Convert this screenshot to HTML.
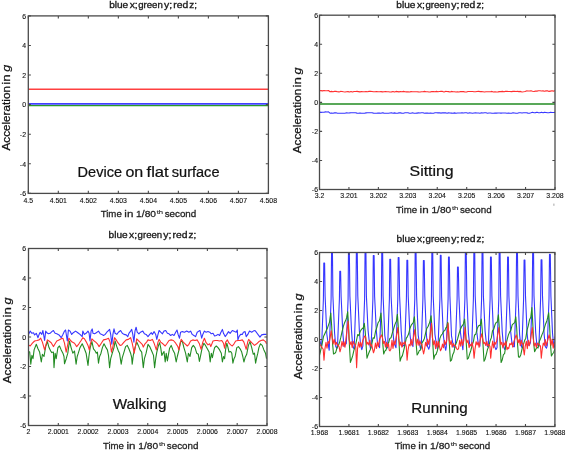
<!DOCTYPE html><html><head><meta charset="utf-8"><style>html,body{margin:0;padding:0;background:#fff;overflow:hidden}svg{display:block;filter:blur(0.3px)}text{font-family:"Liberation Sans",sans-serif}</style></head><body><svg width="567" height="452" viewBox="0 0 567 452">
<rect width="567" height="452" fill="#fff"/>
<clipPath id="cTL"><rect x="28.3" y="15.9" width="240.09999999999997" height="177.5"/></clipPath>
<g clip-path="url(#cTL)" fill="none" stroke-linejoin="round">
<line x1="28.3" y1="89.2" x2="268.4" y2="89.2" stroke="#ff4040" stroke-width="1.4"/>
<line x1="28.3" y1="105.6" x2="268.4" y2="105.6" stroke="#2a9a2a" stroke-width="1.3"/>
<line x1="28.3" y1="103.9" x2="268.4" y2="103.9" stroke="#4040ff" stroke-width="1.9"/>
</g>
<rect x="28.3" y="15.9" width="240.10" height="177.50" fill="none" stroke="#4a4a4a" stroke-width="1.3"/>
<path d="M28.3,15.90h2.6M268.4,15.90h-2.6M28.3,45.48h2.6M268.4,45.48h-2.6M28.3,75.07h2.6M268.4,75.07h-2.6M28.3,104.65h2.6M268.4,104.65h-2.6M28.3,134.23h2.6M268.4,134.23h-2.6M28.3,163.82h2.6M268.4,163.82h-2.6M28.3,193.40h2.6M268.4,193.40h-2.6M28.30,193.4v-2.6M28.30,15.9v2.6M58.31,193.4v-2.6M58.31,15.9v2.6M88.32,193.4v-2.6M88.32,15.9v2.6M118.34,193.4v-2.6M118.34,15.9v2.6M148.35,193.4v-2.6M148.35,15.9v2.6M178.36,193.4v-2.6M178.36,15.9v2.6M208.38,193.4v-2.6M208.38,15.9v2.6M238.39,193.4v-2.6M238.39,15.9v2.6M268.40,193.4v-2.6M268.40,15.9v2.6" stroke="#4a4a4a" stroke-width="1.1" fill="none"/>
<text x="26.0" y="18.60" font-size="7.5" text-anchor="end" fill="#111" stroke="#111" stroke-width="0.12" textLength="3.84" lengthAdjust="spacingAndGlyphs">6</text>
<text x="26.0" y="48.18" font-size="7.5" text-anchor="end" fill="#111" stroke="#111" stroke-width="0.12" textLength="3.84" lengthAdjust="spacingAndGlyphs">4</text>
<text x="26.0" y="77.77" font-size="7.5" text-anchor="end" fill="#111" stroke="#111" stroke-width="0.12" textLength="3.84" lengthAdjust="spacingAndGlyphs">2</text>
<text x="26.0" y="107.35" font-size="7.5" text-anchor="end" fill="#111" stroke="#111" stroke-width="0.12" textLength="3.84" lengthAdjust="spacingAndGlyphs">0</text>
<text x="26.0" y="136.93" font-size="7.5" text-anchor="end" fill="#111" stroke="#111" stroke-width="0.12" textLength="6.13" lengthAdjust="spacingAndGlyphs">-2</text>
<text x="26.0" y="166.52" font-size="7.5" text-anchor="end" fill="#111" stroke="#111" stroke-width="0.12" textLength="6.13" lengthAdjust="spacingAndGlyphs">-4</text>
<text x="26.0" y="196.10" font-size="7.5" text-anchor="end" fill="#111" stroke="#111" stroke-width="0.12" textLength="6.13" lengthAdjust="spacingAndGlyphs">-6</text>
<text x="28.30" y="202.50" font-size="7.5" text-anchor="middle" fill="#111" stroke="#111" stroke-width="0.12" textLength="9.59" lengthAdjust="spacingAndGlyphs">4.5</text>
<text x="58.31" y="202.50" font-size="7.5" text-anchor="middle" fill="#111" stroke="#111" stroke-width="0.12" textLength="17.26" lengthAdjust="spacingAndGlyphs">4.501</text>
<text x="88.32" y="202.50" font-size="7.5" text-anchor="middle" fill="#111" stroke="#111" stroke-width="0.12" textLength="17.26" lengthAdjust="spacingAndGlyphs">4.502</text>
<text x="118.34" y="202.50" font-size="7.5" text-anchor="middle" fill="#111" stroke="#111" stroke-width="0.12" textLength="17.26" lengthAdjust="spacingAndGlyphs">4.503</text>
<text x="148.35" y="202.50" font-size="7.5" text-anchor="middle" fill="#111" stroke="#111" stroke-width="0.12" textLength="17.26" lengthAdjust="spacingAndGlyphs">4.504</text>
<text x="178.36" y="202.50" font-size="7.5" text-anchor="middle" fill="#111" stroke="#111" stroke-width="0.12" textLength="17.26" lengthAdjust="spacingAndGlyphs">4.505</text>
<text x="208.38" y="202.50" font-size="7.5" text-anchor="middle" fill="#111" stroke="#111" stroke-width="0.12" textLength="17.26" lengthAdjust="spacingAndGlyphs">4.506</text>
<text x="238.39" y="202.50" font-size="7.5" text-anchor="middle" fill="#111" stroke="#111" stroke-width="0.12" textLength="17.26" lengthAdjust="spacingAndGlyphs">4.507</text>
<text x="268.40" y="202.50" font-size="7.5" text-anchor="middle" fill="#111" stroke="#111" stroke-width="0.12" textLength="17.26" lengthAdjust="spacingAndGlyphs">4.508</text>
<text transform="translate(109.15,7.80) scale(1.1351,1)" font-size="8.9" fill="#1a1a1a" stroke="#1a1a1a" stroke-width="0.3">blue</text>
<text transform="translate(129.68,7.80) scale(1.1622,1)" font-size="8.9" fill="#1a1a1a" stroke="#1a1a1a" stroke-width="0.3">x;</text>
<text transform="translate(138.20,7.80) scale(1.0820,1)" font-size="8.9" fill="#1a1a1a" stroke="#1a1a1a" stroke-width="0.3">green</text>
<text transform="translate(163.97,7.80) scale(1.1801,1)" font-size="8.9" fill="#1a1a1a" stroke="#1a1a1a" stroke-width="0.3">y;</text>
<text transform="translate(173.21,7.80) scale(1.1625,1)" font-size="8.9" fill="#1a1a1a" stroke="#1a1a1a" stroke-width="0.3">red</text>
<text transform="translate(189.20,7.80) scale(1.1106,1)" font-size="8.9" fill="#1a1a1a" stroke="#1a1a1a" stroke-width="0.3">z;</text>
<text transform="translate(100.68,216.60) scale(1.0159,1)" font-size="9.5" fill="#222" stroke="#222" stroke-width="0.26">Time</text>
<text transform="translate(124.32,216.60) scale(1.2212,1)" font-size="9.5" fill="#222" stroke="#222" stroke-width="0.26">in</text>
<text transform="translate(136.12,216.60) scale(1.0750,1)" font-size="9.5" fill="#222" stroke="#222" stroke-width="0.26">1/80</text>
<text transform="translate(156.68,213.60) scale(1.2822,1)" font-size="6.0" fill="#222" stroke="#222" stroke-width="0.1">th</text>
<text transform="translate(164.63,216.60) scale(1.0350,1)" font-size="9.5" fill="#222" stroke="#222" stroke-width="0.26">second</text>
<g transform="translate(10.3,150.5) rotate(-90)">
<text transform="translate(-0.02,0.00) scale(0.9931,1)" font-size="11.8" fill="#111" stroke="#111" stroke-width="0.26">Acceleration</text>
<text transform="translate(65.81,0.00) scale(1.1273,1)" font-size="11.8" fill="#111" stroke="#111" stroke-width="0.26">in</text>
<text transform="translate(78.68,0.00) scale(1.0566,1)" font-size="11.8" fill="#111" stroke="#111" stroke-width="0.26" font-style="italic">g</text>
</g>
<text transform="translate(77.61,176.60) scale(1.0385,1)" font-size="14.0" fill="#111" stroke="#111" stroke-width="0.22">Device</text>
<text transform="translate(125.43,176.60) scale(1.1439,1)" font-size="14.0" fill="#111" stroke="#111" stroke-width="0.22">on</text>
<text transform="translate(146.56,176.60) scale(1.1864,1)" font-size="14.0" fill="#111" stroke="#111" stroke-width="0.22">flat</text>
<text transform="translate(171.79,176.60) scale(1.0401,1)" font-size="14.0" fill="#111" stroke="#111" stroke-width="0.22">surface</text>
<clipPath id="cTR"><rect x="319.5" y="15.2" width="235.5" height="174.3"/></clipPath>
<g clip-path="url(#cTR)" fill="none" stroke-linejoin="round">
<polyline points="319.5,112.1 321.0,112.4 322.5,112.3 324.0,112.2 325.5,111.9 327.0,112.0 328.5,111.9 330.0,113.2 331.5,113.0 333.0,113.2 334.5,112.9 336.0,112.8 337.5,113.2 339.0,113.3 340.5,113.2 342.0,113.2 343.5,113.2 345.0,113.2 346.5,112.8 348.0,113.0 349.5,112.9 351.0,112.7 352.5,112.7 354.0,112.8 355.5,112.8 357.0,113.1 358.5,113.3 360.0,113.0 361.5,113.3 363.0,113.3 364.5,113.3 366.0,112.9 367.5,112.8 369.0,112.8 370.5,112.8 372.0,112.8 373.5,113.1 375.0,113.3 376.5,113.2 378.0,113.0 379.5,113.1 381.0,113.2 382.5,112.7 384.0,113.1 385.5,113.3 387.0,113.2 388.5,113.2 390.0,113.0 391.5,112.8 393.0,113.2 394.5,112.9 396.0,113.2 397.5,113.3 399.0,112.9 400.5,112.9 402.0,113.3 403.5,113.2 405.0,112.8 406.5,112.7 408.0,112.8 409.5,113.3 411.0,113.2 412.5,112.8 414.0,113.2 415.5,113.3 417.0,113.1 418.5,112.9 420.0,113.0 421.5,112.7 423.0,112.7 424.5,113.3 426.0,113.1 427.5,113.0 429.0,113.3 430.5,113.0 432.0,113.3 433.5,113.2 435.0,112.8 436.5,112.8 438.0,112.9 439.5,112.8 441.0,113.1 442.5,112.8 444.0,112.9 445.5,112.7 447.0,113.3 448.5,112.9 450.0,113.0 451.5,113.1 453.0,113.3 454.5,112.9 456.0,113.3 457.5,113.0 459.0,113.0 460.5,113.0 462.0,112.7 463.5,113.0 465.0,112.8 466.5,112.7 468.0,113.2 469.5,112.8 471.0,113.0 472.5,113.2 474.0,113.0 475.5,112.9 477.0,113.0 478.5,113.0 480.0,113.2 481.5,112.7 483.0,113.0 484.5,112.8 486.0,112.8 487.5,113.2 489.0,113.0 490.5,113.0 492.0,113.2 493.5,113.3 495.0,113.0 496.5,113.1 498.0,113.0 499.5,113.0 501.0,113.1 502.5,113.0 504.0,113.0 505.5,113.0 507.0,113.3 508.5,113.1 510.0,113.3 511.5,113.3 513.0,112.8 514.5,113.0 516.0,113.3 517.5,113.2 519.0,112.8 520.5,112.7 522.0,113.0 523.5,112.7 525.0,112.8 526.5,112.7 528.0,113.1 529.5,113.2 531.0,112.8 532.5,112.3 534.0,112.7 535.5,112.6 537.0,112.2 538.5,112.8 540.0,112.8 541.5,112.3 543.0,112.8 544.5,112.4 546.0,112.5 547.5,112.8 549.0,112.7 550.5,112.3 552.0,112.5 553.5,112.5 555.0,112.4" stroke="#3636ff" stroke-width="1.1"/>
<polyline points="319.5,104.1 555.0,104.1" stroke="#228b22" stroke-width="1.5"/>
<polyline points="319.5,90.7 321.0,90.6 322.5,90.9 324.0,90.5 325.5,90.8 327.0,90.7 328.5,90.5 330.0,91.7 331.5,91.4 333.0,91.7 334.5,91.4 336.0,91.4 337.5,91.7 339.0,91.9 340.5,91.4 342.0,91.5 343.5,91.8 345.0,92.0 346.5,91.8 348.0,91.6 349.5,92.0 351.0,91.4 352.5,92.0 354.0,91.5 355.5,91.5 357.0,91.4 358.5,91.6 360.0,91.9 361.5,91.5 363.0,91.8 364.5,91.8 366.0,91.6 367.5,91.7 369.0,91.4 370.5,91.4 372.0,91.5 373.5,91.8 375.0,91.7 376.5,91.6 378.0,91.8 379.5,91.7 381.0,91.6 382.5,91.9 384.0,91.8 385.5,91.5 387.0,91.8 388.5,91.7 390.0,92.0 391.5,91.9 393.0,91.5 394.5,92.0 396.0,91.4 397.5,91.6 399.0,91.9 400.5,91.5 402.0,91.7 403.5,91.4 405.0,91.8 406.5,91.9 408.0,91.8 409.5,92.0 411.0,91.6 412.5,91.8 414.0,91.8 415.5,91.8 417.0,91.7 418.5,91.9 420.0,92.0 421.5,91.7 423.0,91.8 424.5,91.4 426.0,91.8 427.5,91.8 429.0,92.0 430.5,91.9 432.0,91.5 433.5,91.6 435.0,91.8 436.5,91.4 438.0,91.7 439.5,91.5 441.0,91.4 442.5,91.4 444.0,91.9 445.5,91.4 447.0,91.5 448.5,91.6 450.0,92.0 451.5,91.4 453.0,91.7 454.5,91.7 456.0,92.0 457.5,91.9 459.0,92.0 460.5,91.5 462.0,91.6 463.5,91.6 465.0,92.0 466.5,92.0 468.0,91.5 469.5,91.5 471.0,91.5 472.5,91.5 474.0,91.7 475.5,91.8 477.0,91.5 478.5,91.3 480.0,91.6 481.5,91.6 483.0,91.8 484.5,92.0 486.0,91.8 487.5,91.7 489.0,91.8 490.5,91.8 492.0,91.4 493.5,92.0 495.0,91.9 496.5,92.0 498.0,91.9 499.5,91.6 501.0,91.6 502.5,91.4 504.0,91.8 505.5,91.4 507.0,91.4 508.5,91.5 510.0,91.5 511.5,91.6 513.0,91.4 514.5,91.3 516.0,91.5 517.5,91.4 519.0,91.6 520.5,91.4 522.0,92.0 523.5,91.8 525.0,91.5 526.5,90.9 528.0,91.0 529.5,91.0 531.0,90.8 532.5,91.3 534.0,91.5 535.5,91.1 537.0,91.1 538.5,90.8 540.0,90.8 541.5,91.0 543.0,90.9 544.5,91.3 546.0,90.9 547.5,90.8 549.0,91.4 550.5,91.1 552.0,90.8 553.5,91.1 555.0,90.8" stroke="#ff3030" stroke-width="1.1"/>
</g>
<rect x="319.5" y="15.2" width="235.50" height="174.30" fill="none" stroke="#4a4a4a" stroke-width="1.3"/>
<path d="M319.5,15.20h2.6M555.0,15.20h-2.6M319.5,44.25h2.6M555.0,44.25h-2.6M319.5,73.30h2.6M555.0,73.30h-2.6M319.5,102.35h2.6M555.0,102.35h-2.6M319.5,131.40h2.6M555.0,131.40h-2.6M319.5,160.45h2.6M555.0,160.45h-2.6M319.5,189.50h2.6M555.0,189.50h-2.6M319.50,189.5v-2.6M319.50,15.2v2.6M348.94,189.5v-2.6M348.94,15.2v2.6M378.38,189.5v-2.6M378.38,15.2v2.6M407.81,189.5v-2.6M407.81,15.2v2.6M437.25,189.5v-2.6M437.25,15.2v2.6M466.69,189.5v-2.6M466.69,15.2v2.6M496.12,189.5v-2.6M496.12,15.2v2.6M525.56,189.5v-2.6M525.56,15.2v2.6M555.00,189.5v-2.6M555.00,15.2v2.6" stroke="#4a4a4a" stroke-width="1.1" fill="none"/>
<text x="318.0" y="17.90" font-size="7.5" text-anchor="end" fill="#111" stroke="#111" stroke-width="0.12" textLength="3.84" lengthAdjust="spacingAndGlyphs">6</text>
<text x="318.0" y="46.95" font-size="7.5" text-anchor="end" fill="#111" stroke="#111" stroke-width="0.12" textLength="3.84" lengthAdjust="spacingAndGlyphs">4</text>
<text x="318.0" y="76.00" font-size="7.5" text-anchor="end" fill="#111" stroke="#111" stroke-width="0.12" textLength="3.84" lengthAdjust="spacingAndGlyphs">2</text>
<text x="318.0" y="105.05" font-size="7.5" text-anchor="end" fill="#111" stroke="#111" stroke-width="0.12" textLength="3.84" lengthAdjust="spacingAndGlyphs">0</text>
<text x="318.0" y="134.10" font-size="7.5" text-anchor="end" fill="#111" stroke="#111" stroke-width="0.12" textLength="6.13" lengthAdjust="spacingAndGlyphs">-2</text>
<text x="318.0" y="163.15" font-size="7.5" text-anchor="end" fill="#111" stroke="#111" stroke-width="0.12" textLength="6.13" lengthAdjust="spacingAndGlyphs">-4</text>
<text x="318.0" y="192.20" font-size="7.5" text-anchor="end" fill="#111" stroke="#111" stroke-width="0.12" textLength="6.13" lengthAdjust="spacingAndGlyphs">-6</text>
<text x="319.50" y="197.70" font-size="7.5" text-anchor="middle" fill="#111" stroke="#111" stroke-width="0.12" textLength="9.59" lengthAdjust="spacingAndGlyphs">3.2</text>
<text x="348.94" y="197.70" font-size="7.5" text-anchor="middle" fill="#111" stroke="#111" stroke-width="0.12" textLength="17.26" lengthAdjust="spacingAndGlyphs">3.201</text>
<text x="378.38" y="197.70" font-size="7.5" text-anchor="middle" fill="#111" stroke="#111" stroke-width="0.12" textLength="17.26" lengthAdjust="spacingAndGlyphs">3.202</text>
<text x="407.81" y="197.70" font-size="7.5" text-anchor="middle" fill="#111" stroke="#111" stroke-width="0.12" textLength="17.26" lengthAdjust="spacingAndGlyphs">3.203</text>
<text x="437.25" y="197.70" font-size="7.5" text-anchor="middle" fill="#111" stroke="#111" stroke-width="0.12" textLength="17.26" lengthAdjust="spacingAndGlyphs">3.204</text>
<text x="466.69" y="197.70" font-size="7.5" text-anchor="middle" fill="#111" stroke="#111" stroke-width="0.12" textLength="17.26" lengthAdjust="spacingAndGlyphs">3.205</text>
<text x="496.12" y="197.70" font-size="7.5" text-anchor="middle" fill="#111" stroke="#111" stroke-width="0.12" textLength="17.26" lengthAdjust="spacingAndGlyphs">3.206</text>
<text x="525.56" y="197.70" font-size="7.5" text-anchor="middle" fill="#111" stroke="#111" stroke-width="0.12" textLength="17.26" lengthAdjust="spacingAndGlyphs">3.207</text>
<text x="555.00" y="197.70" font-size="7.5" text-anchor="middle" fill="#111" stroke="#111" stroke-width="0.12" textLength="17.26" lengthAdjust="spacingAndGlyphs">3.208</text>
<text transform="translate(396.35,7.80) scale(1.1351,1)" font-size="8.9" fill="#1a1a1a" stroke="#1a1a1a" stroke-width="0.3">blue</text>
<text transform="translate(416.88,7.80) scale(1.1622,1)" font-size="8.9" fill="#1a1a1a" stroke="#1a1a1a" stroke-width="0.3">x;</text>
<text transform="translate(425.40,7.80) scale(1.0820,1)" font-size="8.9" fill="#1a1a1a" stroke="#1a1a1a" stroke-width="0.3">green</text>
<text transform="translate(451.17,7.80) scale(1.1801,1)" font-size="8.9" fill="#1a1a1a" stroke="#1a1a1a" stroke-width="0.3">y;</text>
<text transform="translate(460.41,7.80) scale(1.1625,1)" font-size="8.9" fill="#1a1a1a" stroke="#1a1a1a" stroke-width="0.3">red</text>
<text transform="translate(476.40,7.80) scale(1.1106,1)" font-size="8.9" fill="#1a1a1a" stroke="#1a1a1a" stroke-width="0.3">z;</text>
<text transform="translate(395.98,212.70) scale(1.0159,1)" font-size="9.5" fill="#222" stroke="#222" stroke-width="0.26">Time</text>
<text transform="translate(419.62,212.70) scale(1.2212,1)" font-size="9.5" fill="#222" stroke="#222" stroke-width="0.26">in</text>
<text transform="translate(431.42,212.70) scale(1.0750,1)" font-size="9.5" fill="#222" stroke="#222" stroke-width="0.26">1/80</text>
<text transform="translate(451.98,209.70) scale(1.2822,1)" font-size="6.0" fill="#222" stroke="#222" stroke-width="0.1">th</text>
<text transform="translate(459.93,212.70) scale(1.0350,1)" font-size="9.5" fill="#222" stroke="#222" stroke-width="0.26">second</text>
<g transform="translate(301.3,153.2) rotate(-90)">
<text transform="translate(-0.02,0.00) scale(0.9931,1)" font-size="11.8" fill="#111" stroke="#111" stroke-width="0.26">Acceleration</text>
<text transform="translate(65.81,0.00) scale(1.1273,1)" font-size="11.8" fill="#111" stroke="#111" stroke-width="0.26">in</text>
<text transform="translate(78.68,0.00) scale(1.0566,1)" font-size="11.8" fill="#111" stroke="#111" stroke-width="0.26" font-style="italic">g</text>
</g>
<text transform="translate(409.58,176.00) scale(1.1319,1)" font-size="14.0" fill="#111" stroke="#111" stroke-width="0.22">Sitting</text>
<clipPath id="cBL"><rect x="28.5" y="248.5" width="238.5" height="177.0"/></clipPath>
<g clip-path="url(#cBL)" fill="none" stroke-linejoin="round">
<polyline points="28.5,334.4 30.2,331.1 31.9,333.3 33.5,332.7 34.6,334.9 36.3,333.3 38.0,337.7 39.1,334.4 40.2,332.2 41.8,334.4 42.9,330.5 44.6,340.5 45.7,331.1 46.8,332.7 48.5,333.8 50.1,333.3 51.8,331.6 53.4,330.5 55.1,333.3 56.8,333.8 59.0,334.9 61.2,337.7 62.9,334.4 64.5,331.1 65.6,330.0 67.3,341.0 68.4,330.0 70.0,331.1 71.7,334.4 73.3,332.7 75.6,331.1 77.8,332.7 80.0,334.4 82.2,336.6 82.8,331.1 84.4,334.4 86.1,333.3 88.0,331.1 89.1,333.3 90.0,341.0 91.1,331.1 92.2,328.9 93.0,333.3 94.6,333.8 96.3,332.7 98.5,331.1 100.2,333.8 101.8,334.4 103.5,335.5 105.2,334.4 106.8,332.2 107.9,331.1 109.6,329.4 110.7,334.4 111.8,344.3 112.9,334.4 114.0,328.9 115.1,333.3 116.8,334.4 118.4,332.2 120.6,330.5 122.3,333.3 124.0,334.4 126.2,334.9 127.8,336.6 128.9,333.3 130.6,331.1 131.7,329.4 132.8,334.4 133.9,342.1 135.0,331.1 136.1,327.2 137.2,332.2 138.9,333.8 140.5,332.2 142.8,331.1 144.4,333.8 146.1,334.4 148.0,336.6 149.7,334.4 151.3,332.7 152.4,334.4 154.1,331.6 155.7,334.4 156.8,339.4 158.0,334.4 159.1,330.5 160.7,332.2 162.4,333.8 164.0,331.1 165.7,330.5 167.4,333.3 169.0,333.8 170.7,335.5 172.3,334.4 174.0,335.5 175.7,332.2 177.0,330.0 178.1,334.4 179.5,338.2 180.6,332.2 182.3,331.6 184.5,332.2 186.7,331.1 188.9,332.2 190.6,331.1 192.2,334.4 193.9,335.5 195.6,336.6 197.2,332.2 198.9,331.1 200.0,330.5 201.7,338.2 202.8,334.4 204.4,331.1 206.1,332.2 208.0,331.6 209.7,332.2 211.3,333.8 213.0,333.3 214.6,336.0 216.3,335.5 218.0,334.4 219.6,335.5 220.7,332.7 222.4,329.4 223.5,333.3 225.2,336.6 226.8,334.4 228.5,331.6 230.1,333.3 232.3,330.5 234.6,331.6 236.2,332.2 237.3,330.0 237.9,339.9 239.0,336.6 240.6,334.4 242.3,334.4 243.4,332.2 245.1,331.6 246.2,336.6 247.8,334.4 249.5,331.1 251.7,332.2 253.3,331.1 255.0,330.5 256.7,332.7 258.3,334.9 260.0,337.1 261.6,334.9 263.9,334.4 266.5,334.4" stroke="#3636ff" stroke-width="1.1"/>
<polyline points="28.5,351.5 29.7,352.1 30.8,364.2 31.9,355.4 33.0,358.7 34.1,349.9 36.3,344.3 38.0,348.8 39.6,352.1 41.3,362.0 42.4,354.3 44.0,356.5 45.7,346.6 47.4,341.6 49.0,347.6 50.7,351.0 51.8,352.6 53.4,352.1 54.0,367.6 55.1,353.2 56.2,358.7 57.9,347.6 59.5,346.0 61.2,349.9 62.9,353.2 64.0,356.5 64.5,363.7 66.2,358.7 67.8,353.2 69.5,341.0 71.1,347.6 72.8,353.2 74.5,351.0 76.1,364.2 77.2,356.5 78.3,353.2 80.0,347.6 82.2,343.8 84.4,348.8 86.1,353.2 88.0,365.4 88.9,356.5 90.2,347.6 91.9,341.6 93.5,348.8 95.2,351.0 96.3,353.2 97.4,352.1 98.5,363.1 99.6,356.5 101.0,353.2 102.4,347.6 104.0,343.8 105.7,347.1 107.4,349.9 108.5,355.4 109.6,367.6 110.7,358.7 112.3,353.2 114.0,347.6 115.1,341.0 116.8,346.6 118.4,351.0 119.5,353.2 121.2,364.2 122.3,357.6 124.0,352.1 125.6,346.6 127.3,345.4 128.9,348.8 130.6,353.2 131.7,357.6 132.2,364.2 133.3,355.4 135.0,347.6 136.7,342.1 138.3,345.4 140.0,349.9 141.7,352.1 143.3,367.6 144.4,358.7 146.1,353.2 148.0,344.3 149.7,346.6 151.9,351.5 153.5,355.4 154.6,367.6 155.7,358.7 156.8,352.1 158.5,345.4 159.6,342.7 160.7,347.6 161.8,355.4 162.9,353.2 164.0,351.5 165.2,362.0 166.2,353.2 167.4,360.9 168.5,354.3 169.6,348.2 171.2,345.4 172.9,349.9 174.6,353.2 176.2,362.0 177.3,356.5 179.0,349.9 180.6,342.1 182.3,341.0 183.9,347.6 185.6,353.2 187.3,362.0 188.4,353.2 190.0,356.5 191.7,347.6 193.3,345.4 195.0,347.6 196.7,353.2 198.3,354.3 199.4,361.5 201.1,353.2 202.2,347.6 203.9,343.2 205.5,345.4 208.0,349.9 209.1,352.1 210.2,362.0 211.3,353.2 212.4,357.6 213.5,352.1 214.6,347.6 216.3,346.0 218.0,347.6 219.6,349.9 221.3,353.2 222.4,362.0 223.5,356.5 224.6,358.7 225.7,348.8 226.8,343.2 227.9,347.1 229.0,352.1 230.7,351.5 231.8,353.2 232.9,363.1 234.0,358.7 235.1,356.5 236.8,347.6 238.4,346.6 240.1,348.8 241.7,352.1 242.8,356.5 243.9,362.0 245.1,357.6 246.7,354.3 248.4,345.4 250.0,341.6 251.7,347.6 253.3,354.3 254.5,353.2 255.6,363.1 256.7,357.6 257.8,353.2 258.9,347.6 260.5,343.8 262.2,345.4 263.9,349.9 265.5,353.2 266.5,358.7" stroke="#228b22" stroke-width="1.1"/>
<polyline points="28.5,344.9 30.2,346.0 32.4,343.2 34.6,341.0 36.9,340.5 39.1,339.9 40.7,338.2 42.4,342.1 44.6,349.9 45.7,345.4 47.4,339.9 49.0,341.0 51.2,342.7 53.4,346.6 55.1,343.8 56.8,341.0 59.0,339.9 61.2,338.8 62.9,338.2 64.5,343.2 66.2,352.1 67.8,344.3 68.9,338.2 70.6,340.5 72.2,342.1 74.5,343.2 76.7,346.6 78.9,343.8 81.1,340.5 82.8,337.7 84.4,338.8 86.1,341.6 88.0,345.4 89.3,349.9 90.2,344.3 91.9,338.8 93.5,340.5 95.7,342.1 97.4,343.8 99.1,346.6 101.3,343.2 103.5,339.9 105.7,339.4 108.5,338.2 110.1,342.1 111.5,352.1 112.9,346.6 114.5,337.7 116.2,339.9 117.9,342.7 120.1,345.4 121.7,344.9 124.0,342.1 126.2,339.9 128.4,339.4 130.6,337.7 132.2,343.2 134.2,353.2 135.6,345.4 136.7,338.8 138.3,340.5 140.0,342.1 142.2,344.3 143.3,347.1 145.0,343.8 146.6,342.1 148.0,339.9 150.2,340.5 152.4,339.4 154.1,343.2 156.3,349.9 158.0,342.1 159.1,339.4 160.7,342.1 162.9,343.8 165.2,346.0 166.8,343.8 169.0,340.5 171.2,339.9 173.4,340.5 175.7,343.2 177.9,346.6 178.8,349.9 180.1,343.2 181.2,339.4 182.8,341.6 185.1,343.8 187.3,346.0 188.9,344.3 190.6,341.0 192.8,339.9 195.0,340.5 197.2,339.9 199.4,343.8 201.1,349.3 202.8,342.1 204.4,338.2 206.1,342.7 208.0,344.9 209.7,343.8 210.8,346.6 213.0,341.0 215.2,340.5 217.4,340.5 219.6,341.0 221.8,340.5 223.5,343.2 224.6,348.2 225.7,342.1 227.4,339.9 229.0,343.2 230.7,344.9 232.3,346.0 234.0,343.8 235.7,341.0 237.9,340.5 240.1,340.5 242.3,339.9 243.9,342.1 246.2,349.3 247.8,341.6 248.7,339.4 250.0,341.0 252.2,343.2 254.5,345.4 256.7,343.8 258.9,341.6 261.1,340.5 263.3,339.9 265.5,341.6 266.5,343.8" stroke="#ff3030" stroke-width="1.1"/>
</g>
<rect x="28.5" y="248.5" width="238.50" height="177.00" fill="none" stroke="#4a4a4a" stroke-width="1.3"/>
<path d="M28.5,248.50h2.6M267,248.50h-2.6M28.5,278.00h2.6M267,278.00h-2.6M28.5,307.50h2.6M267,307.50h-2.6M28.5,337.00h2.6M267,337.00h-2.6M28.5,366.50h2.6M267,366.50h-2.6M28.5,396.00h2.6M267,396.00h-2.6M28.5,425.50h2.6M267,425.50h-2.6M28.50,425.5v-2.6M28.50,248.5v2.6M58.31,425.5v-2.6M58.31,248.5v2.6M88.12,425.5v-2.6M88.12,248.5v2.6M117.94,425.5v-2.6M117.94,248.5v2.6M147.75,425.5v-2.6M147.75,248.5v2.6M177.56,425.5v-2.6M177.56,248.5v2.6M207.38,425.5v-2.6M207.38,248.5v2.6M237.19,425.5v-2.6M237.19,248.5v2.6M267.00,425.5v-2.6M267.00,248.5v2.6" stroke="#4a4a4a" stroke-width="1.1" fill="none"/>
<text x="26.1" y="251.20" font-size="7.5" text-anchor="end" fill="#111" stroke="#111" stroke-width="0.12" textLength="3.84" lengthAdjust="spacingAndGlyphs">6</text>
<text x="26.1" y="280.70" font-size="7.5" text-anchor="end" fill="#111" stroke="#111" stroke-width="0.12" textLength="3.84" lengthAdjust="spacingAndGlyphs">4</text>
<text x="26.1" y="310.20" font-size="7.5" text-anchor="end" fill="#111" stroke="#111" stroke-width="0.12" textLength="3.84" lengthAdjust="spacingAndGlyphs">2</text>
<text x="26.1" y="339.70" font-size="7.5" text-anchor="end" fill="#111" stroke="#111" stroke-width="0.12" textLength="3.84" lengthAdjust="spacingAndGlyphs">0</text>
<text x="26.1" y="369.20" font-size="7.5" text-anchor="end" fill="#111" stroke="#111" stroke-width="0.12" textLength="6.13" lengthAdjust="spacingAndGlyphs">-2</text>
<text x="26.1" y="398.70" font-size="7.5" text-anchor="end" fill="#111" stroke="#111" stroke-width="0.12" textLength="6.13" lengthAdjust="spacingAndGlyphs">-4</text>
<text x="26.1" y="428.20" font-size="7.5" text-anchor="end" fill="#111" stroke="#111" stroke-width="0.12" textLength="6.13" lengthAdjust="spacingAndGlyphs">-6</text>
<text x="28.50" y="434.40" font-size="7.5" text-anchor="middle" fill="#111" stroke="#111" stroke-width="0.12" textLength="3.84" lengthAdjust="spacingAndGlyphs">2</text>
<text x="58.31" y="434.40" font-size="7.5" text-anchor="middle" fill="#111" stroke="#111" stroke-width="0.12" textLength="21.10" lengthAdjust="spacingAndGlyphs">2.0001</text>
<text x="88.12" y="434.40" font-size="7.5" text-anchor="middle" fill="#111" stroke="#111" stroke-width="0.12" textLength="21.10" lengthAdjust="spacingAndGlyphs">2.0002</text>
<text x="117.94" y="434.40" font-size="7.5" text-anchor="middle" fill="#111" stroke="#111" stroke-width="0.12" textLength="21.10" lengthAdjust="spacingAndGlyphs">2.0003</text>
<text x="147.75" y="434.40" font-size="7.5" text-anchor="middle" fill="#111" stroke="#111" stroke-width="0.12" textLength="21.10" lengthAdjust="spacingAndGlyphs">2.0004</text>
<text x="177.56" y="434.40" font-size="7.5" text-anchor="middle" fill="#111" stroke="#111" stroke-width="0.12" textLength="21.10" lengthAdjust="spacingAndGlyphs">2.0005</text>
<text x="207.38" y="434.40" font-size="7.5" text-anchor="middle" fill="#111" stroke="#111" stroke-width="0.12" textLength="21.10" lengthAdjust="spacingAndGlyphs">2.0006</text>
<text x="237.19" y="434.40" font-size="7.5" text-anchor="middle" fill="#111" stroke="#111" stroke-width="0.12" textLength="21.10" lengthAdjust="spacingAndGlyphs">2.0007</text>
<text x="267.00" y="434.40" font-size="7.5" text-anchor="middle" fill="#111" stroke="#111" stroke-width="0.12" textLength="21.10" lengthAdjust="spacingAndGlyphs">2.0008</text>
<text transform="translate(108.55,238.00) scale(1.1351,1)" font-size="8.9" fill="#1a1a1a" stroke="#1a1a1a" stroke-width="0.3">blue</text>
<text transform="translate(129.08,238.00) scale(1.1622,1)" font-size="8.9" fill="#1a1a1a" stroke="#1a1a1a" stroke-width="0.3">x;</text>
<text transform="translate(137.60,238.00) scale(1.0820,1)" font-size="8.9" fill="#1a1a1a" stroke="#1a1a1a" stroke-width="0.3">green</text>
<text transform="translate(163.37,238.00) scale(1.1801,1)" font-size="8.9" fill="#1a1a1a" stroke="#1a1a1a" stroke-width="0.3">y;</text>
<text transform="translate(172.61,238.00) scale(1.1625,1)" font-size="8.9" fill="#1a1a1a" stroke="#1a1a1a" stroke-width="0.3">red</text>
<text transform="translate(188.60,238.00) scale(1.1106,1)" font-size="8.9" fill="#1a1a1a" stroke="#1a1a1a" stroke-width="0.3">z;</text>
<text transform="translate(102.88,449.00) scale(1.0159,1)" font-size="9.5" fill="#222" stroke="#222" stroke-width="0.26">Time</text>
<text transform="translate(126.52,449.00) scale(1.2212,1)" font-size="9.5" fill="#222" stroke="#222" stroke-width="0.26">in</text>
<text transform="translate(138.32,449.00) scale(1.0750,1)" font-size="9.5" fill="#222" stroke="#222" stroke-width="0.26">1/80</text>
<text transform="translate(158.88,446.00) scale(1.2822,1)" font-size="6.0" fill="#222" stroke="#222" stroke-width="0.1">th</text>
<text transform="translate(166.83,449.00) scale(1.0350,1)" font-size="9.5" fill="#222" stroke="#222" stroke-width="0.26">second</text>
<g transform="translate(10.5,383.2) rotate(-90)">
<text transform="translate(-0.02,0.00) scale(0.9931,1)" font-size="11.8" fill="#111" stroke="#111" stroke-width="0.26">Acceleration</text>
<text transform="translate(65.81,0.00) scale(1.1273,1)" font-size="11.8" fill="#111" stroke="#111" stroke-width="0.26">in</text>
<text transform="translate(78.68,0.00) scale(1.0566,1)" font-size="11.8" fill="#111" stroke="#111" stroke-width="0.26" font-style="italic">g</text>
</g>
<text transform="translate(112.73,408.80) scale(1.0895,1)" font-size="14.0" fill="#111" stroke="#111" stroke-width="0.22">Walking</text>
<clipPath id="cBR"><rect x="319.5" y="252.5" width="235.39999999999998" height="174.0"/></clipPath>
<g clip-path="url(#cBR)" fill="none" stroke-linejoin="round">
<polyline points="319.5,339.5 321.6,347.1 323.4,298.9 323.8,263.0 324.6,263.0 325.1,296.0 326.8,334.0 328.0,342.6 329.2,350.3 329.4,345.0 331.1,298.9 331.6,248.2 332.4,248.2 332.9,296.0 334.6,333.3 335.8,346.6 337.0,348.4 337.6,344.6 339.4,298.9 339.8,271.2 340.6,271.2 341.1,296.0 342.8,332.9 344.0,346.4 345.2,344.7 346.3,343.6 348.1,298.9 348.5,248.2 349.3,248.2 349.9,296.0 351.5,330.2 352.7,346.1 353.9,348.8 354.2,348.0 355.9,298.9 356.4,248.2 357.2,248.2 357.8,296.0 359.4,331.4 360.6,345.2 361.8,349.6 362.9,345.8 364.6,298.9 365.1,248.2 365.9,248.2 366.4,296.0 368.1,330.6 369.3,342.0 370.5,348.9 371.1,347.3 372.9,298.9 373.3,255.6 374.1,255.6 374.6,296.0 376.3,330.5 377.5,343.4 378.7,346.3 379.6,347.7 381.4,298.9 381.8,248.2 382.6,248.2 383.1,296.0 384.8,335.5 386.0,342.8 387.2,347.9 387.6,347.8 389.4,298.9 389.8,259.2 390.6,259.2 391.1,296.0 392.8,330.4 394.0,343.1 395.2,345.7 396.0,347.7 397.8,298.9 398.2,257.5 399.0,257.5 399.6,296.0 401.2,330.9 402.4,346.4 403.6,345.4 404.7,345.6 406.4,298.9 406.9,260.2 407.7,260.2 408.2,296.0 409.9,333.9 411.1,343.5 412.3,345.0 413.0,346.6 414.8,298.9 415.2,248.2 416.0,248.2 416.6,296.0 418.2,335.1 419.4,343.7 420.6,349.0 421.2,347.6 422.9,298.9 423.4,260.6 424.2,260.6 424.8,296.0 426.4,334.9 427.6,346.5 428.8,349.2 429.7,346.4 431.4,298.9 431.9,248.2 432.7,248.2 433.2,296.0 434.9,334.1 436.1,342.3 437.3,348.7 438.1,345.3 439.9,298.9 440.3,255.4 441.1,255.4 441.6,296.0 443.3,334.8 444.5,344.7 445.7,350.3 446.3,346.8 448.1,298.9 448.5,257.0 449.3,257.0 449.9,296.0 451.5,335.8 452.7,342.5 453.9,347.2 455.3,347.1 457.1,298.9 457.5,267.0 458.3,267.0 458.9,296.0 460.5,333.1 461.7,341.3 462.9,349.8 463.2,343.4 464.9,298.9 465.4,248.2 466.2,248.2 466.8,296.0 468.4,333.4 469.6,343.9 470.8,345.5 471.7,345.9 473.4,298.9 473.9,248.2 474.7,248.2 475.2,296.0 476.9,332.9 478.1,342.8 479.3,344.7 479.9,346.2 481.6,298.9 482.1,248.2 482.9,248.2 483.4,296.0 485.1,331.1 486.3,342.6 487.5,346.7 488.3,345.9 490.1,298.9 490.5,257.0 491.3,257.0 491.9,296.0 493.5,333.9 494.7,346.4 495.9,349.6 497.0,347.8 498.8,298.9 499.2,248.2 500.0,248.2 500.6,296.0 502.2,331.6 503.4,345.3 504.6,349.4 505.4,347.7 507.1,298.9 507.6,257.0 508.4,257.0 508.9,296.0 510.6,331.0 511.8,341.7 513.0,346.5 514.4,346.6 516.1,298.9 516.6,248.2 517.4,248.2 518.0,296.0 519.6,334.5 520.8,345.1 522.0,347.7 521.9,347.3 523.6,298.9 524.1,260.0 524.9,260.0 525.5,296.0 527.1,333.3 528.3,345.2 529.5,344.8 530.5,342.6 532.2,298.9 532.7,248.2 533.5,248.2 534.0,296.0 535.7,332.7 536.9,345.3 538.1,344.8 538.9,346.4 540.6,298.9 541.1,259.8 541.9,259.8 542.5,296.0 544.1,333.8 545.3,346.7 546.5,348.2 547.3,345.4 549.0,298.9 549.5,254.3 550.3,254.3 550.9,296.0 552.5,333.0 553.7,345.6 554.9,347.4 555.0,336.6" stroke="#3636ff" stroke-width="1.1"/>
<polyline points="319.5,355.4 321.5,346.8 323.5,336.6 325.5,332.2 327.5,327.9 329.5,322.1 329.7,321.1 330.8,313.1 331.7,326.3 332.6,343.9 333.5,354.0 334.6,353.6 335.8,352.2 337.0,347.9 338.3,345.8 339.6,342.3 340.8,337.4 342.0,331.9 343.3,326.7 344.6,322.7 345.8,320.0 346.6,317.9 347.7,311.7 348.6,325.6 349.5,346.4 350.4,362.4 351.5,359.4 352.7,355.7 353.9,350.4 355.2,346.9 356.5,340.5 357.7,334.5 358.9,335.6 360.2,331.5 361.5,329.3 362.7,328.1 363.2,328.6 364.3,323.3 365.2,331.4 366.1,345.1 367.0,358.2 368.1,354.9 369.3,351.8 370.5,349.2 371.8,344.1 373.1,337.7 374.3,338.2 375.5,331.5 376.8,327.6 378.1,322.7 379.3,321.0 379.9,318.8 381.0,313.1 381.9,326.3 382.8,343.9 383.7,354.0 384.8,351.1 386.0,350.0 387.2,345.8 388.5,343.1 389.8,338.4 391.0,337.8 392.2,333.3 393.5,329.3 394.8,324.9 396.0,321.9 396.3,321.8 397.4,314.4 398.3,327.0 399.2,346.0 400.1,361.2 401.2,357.6 402.4,355.6 403.6,350.9 404.9,345.5 406.2,338.4 407.4,336.6 408.6,334.1 409.9,328.5 411.2,325.2 412.4,323.7 413.3,322.5 414.4,316.9 415.3,328.2 416.2,344.1 417.1,355.0 418.2,353.3 419.4,350.4 420.6,349.9 421.9,343.1 423.2,340.9 424.4,338.4 425.6,333.1 426.9,328.2 428.2,326.2 429.4,323.0 430.0,321.1 431.1,315.9 432.0,327.7 432.9,345.4 433.8,359.2 434.9,355.2 436.1,354.3 437.3,350.9 438.6,345.5 439.9,338.4 441.1,335.4 442.3,334.0 443.6,331.3 444.9,330.4 446.1,327.4 446.6,327.6 447.7,322.2 448.6,330.9 449.5,346.0 450.4,361.2 451.5,360.1 452.7,354.8 453.9,352.3 455.2,345.7 456.5,342.3 457.7,338.5 458.9,334.0 460.2,329.8 461.5,326.7 462.7,325.2 463.5,323.7 464.6,319.1 465.5,329.3 466.4,345.4 467.3,359.2 468.4,358.2 469.6,354.2 470.8,350.5 472.1,345.6 473.4,341.7 474.6,334.9 475.8,334.2 477.1,328.9 478.4,326.0 479.6,325.2 480.2,325.6 481.3,319.1 482.2,329.3 483.1,346.0 484.0,361.2 485.1,359.2 486.3,354.4 487.5,349.4 488.8,346.2 490.1,340.8 491.3,337.9 492.5,330.8 493.8,329.2 495.1,324.5 496.3,322.2 497.3,322.1 498.4,314.9 499.3,327.2 500.2,346.4 501.1,362.4 502.2,360.0 503.4,354.7 504.6,353.7 505.9,345.0 507.2,339.4 508.4,334.9 509.6,332.1 510.9,330.1 512.2,324.8 513.4,323.7 514.7,322.6 515.8,316.9 516.7,328.2 517.6,344.7 518.5,356.9 519.6,357.2 520.8,354.7 522.0,349.1 523.3,344.9 524.6,340.6 525.8,338.2 527.0,330.4 528.3,325.7 529.6,319.4 530.8,317.2 530.8,317.0 531.9,307.6 532.8,323.6 533.7,343.2 534.6,351.8 535.7,349.5 536.9,347.3 538.1,347.9 539.4,341.3 540.7,338.3 541.9,334.9 543.1,332.1 544.4,327.8 545.7,323.7 546.9,320.7 547.6,317.9 548.7,312.7 549.6,326.1 550.5,344.5 551.4,356.0 552.5,354.0 553.7,352.5 554.9,348.9 555.0,351.1" stroke="#228b22" stroke-width="1.1"/>
<polyline points="319.5,343.9 323.2,349.3 324.0,360.2 324.9,349.2 326.0,342.4 327.0,348.1 328.0,341.5 329.0,343.3 330.1,337.8 331.2,330.8 332.1,337.1 333.2,344.0 334.2,339.1 335.3,344.8 336.3,342.2 337.3,345.1 338.3,345.1 339.2,347.2 340.0,351.8 340.9,348.4 342.0,341.3 343.0,346.1 344.0,341.9 345.0,347.3 346.1,337.6 348.1,321.2 349.0,339.1 350.1,344.7 351.1,341.6 352.2,347.6 353.2,341.4 354.2,343.9 355.2,344.2 355.8,347.5 356.6,367.6 357.5,349.1 358.6,342.1 359.6,347.2 360.6,342.4 361.6,346.8 362.7,340.8 364.7,336.0 365.6,336.9 366.7,344.6 367.7,342.2 368.8,345.0 369.8,340.2 370.8,346.2 371.8,344.7 372.7,349.5 373.5,352.8 374.4,350.0 375.5,343.1 376.5,348.5 377.5,342.1 378.5,346.4 379.6,339.2 381.4,334.9 382.3,336.9 383.4,343.5 384.4,341.3 385.5,347.1 386.5,342.3 387.5,346.6 388.5,343.8 389.2,350.1 390.0,350.8 390.9,349.2 392.0,340.4 393.0,348.4 394.0,340.9 395.0,344.7 396.1,337.9 397.8,327.5 398.7,338.9 399.8,345.6 400.8,342.0 401.9,347.2 402.9,342.6 403.9,344.1 404.9,341.6 406.3,346.6 407.1,360.2 408.0,350.3 409.1,344.4 410.1,345.8 411.1,339.2 412.1,345.4 413.2,339.1 414.8,329.6 415.7,339.5 416.8,345.1 417.8,339.1 418.9,345.3 419.9,340.9 420.9,344.0 421.9,344.2 422.8,349.9 423.6,354.0 424.5,349.7 425.6,342.3 426.6,346.0 427.6,339.0 428.6,344.3 429.7,338.9 431.5,323.3 432.4,337.3 433.5,344.8 434.5,340.7 435.6,348.8 436.6,341.2 437.6,347.2 438.6,341.3 439.7,347.6 440.5,350.8 441.4,349.1 442.5,344.0 443.5,347.8 444.5,340.4 445.5,344.4 446.6,341.2 448.1,323.3 449.0,339.3 450.1,344.5 451.1,340.6 452.2,347.2 453.2,343.6 454.2,345.6 455.2,345.2 456.9,349.1 457.7,349.6 458.6,348.4 459.7,340.4 460.7,346.1 461.7,339.3 462.7,345.4 463.8,340.6 465.0,327.5 465.9,338.8 467.0,342.6 468.0,340.1 469.1,347.6 470.1,344.5 471.1,346.0 472.1,342.4 473.3,348.6 474.1,358.2 475.0,349.3 476.1,341.7 477.1,344.9 478.1,342.1 479.1,347.3 480.2,340.2 481.7,333.9 482.6,338.3 483.7,343.8 484.7,342.3 485.8,345.5 486.8,341.4 487.8,346.0 488.8,344.4 489.9,346.2 490.7,358.2 491.6,349.0 492.7,341.0 493.7,347.9 494.7,342.2 495.7,344.2 496.8,340.4 498.8,327.5 499.7,336.7 500.8,344.6 501.8,342.3 502.9,347.9 503.9,342.8 504.9,345.3 505.9,341.2 507.0,349.7 507.8,347.6 508.7,348.7 509.8,343.6 510.8,344.7 511.8,342.5 512.8,347.2 513.9,341.4 516.2,334.9 517.1,338.4 518.2,342.8 519.2,339.3 520.3,345.7 521.3,340.2 522.3,344.1 523.3,343.9 523.5,349.6 524.3,355.0 525.2,346.3 526.3,341.3 527.3,348.8 528.3,340.2 529.3,345.8 530.4,340.1 532.3,327.5 533.2,338.5 534.3,346.0 535.3,343.1 536.4,347.7 537.4,343.1 538.4,344.0 539.4,344.8 540.5,346.2 541.3,358.2 542.2,349.5 543.3,343.0 544.3,345.4 545.3,339.6 546.3,345.6 547.4,341.5 549.1,334.9 550.0,338.1 551.1,345.1 552.1,339.1 553.2,348.1 554.2,343.0 555.0,342.4" stroke="#ff3030" stroke-width="1.1"/>
</g>
<rect x="319.5" y="252.5" width="235.40" height="174.00" fill="none" stroke="#4a4a4a" stroke-width="1.3"/>
<path d="M319.5,252.50h2.6M554.9,252.50h-2.6M319.5,281.50h2.6M554.9,281.50h-2.6M319.5,310.50h2.6M554.9,310.50h-2.6M319.5,339.50h2.6M554.9,339.50h-2.6M319.5,368.50h2.6M554.9,368.50h-2.6M319.5,397.50h2.6M554.9,397.50h-2.6M319.5,426.50h2.6M554.9,426.50h-2.6M319.50,426.5v-2.6M319.50,252.5v2.6M348.93,426.5v-2.6M348.93,252.5v2.6M378.35,426.5v-2.6M378.35,252.5v2.6M407.77,426.5v-2.6M407.77,252.5v2.6M437.20,426.5v-2.6M437.20,252.5v2.6M466.62,426.5v-2.6M466.62,252.5v2.6M496.05,426.5v-2.6M496.05,252.5v2.6M525.47,426.5v-2.6M525.47,252.5v2.6M554.90,426.5v-2.6M554.90,252.5v2.6" stroke="#4a4a4a" stroke-width="1.1" fill="none"/>
<text x="318.0" y="255.20" font-size="7.5" text-anchor="end" fill="#111" stroke="#111" stroke-width="0.12" textLength="3.84" lengthAdjust="spacingAndGlyphs">6</text>
<text x="318.0" y="284.20" font-size="7.5" text-anchor="end" fill="#111" stroke="#111" stroke-width="0.12" textLength="3.84" lengthAdjust="spacingAndGlyphs">4</text>
<text x="318.0" y="313.20" font-size="7.5" text-anchor="end" fill="#111" stroke="#111" stroke-width="0.12" textLength="3.84" lengthAdjust="spacingAndGlyphs">2</text>
<text x="318.0" y="342.20" font-size="7.5" text-anchor="end" fill="#111" stroke="#111" stroke-width="0.12" textLength="3.84" lengthAdjust="spacingAndGlyphs">0</text>
<text x="318.0" y="371.20" font-size="7.5" text-anchor="end" fill="#111" stroke="#111" stroke-width="0.12" textLength="6.13" lengthAdjust="spacingAndGlyphs">-2</text>
<text x="318.0" y="400.20" font-size="7.5" text-anchor="end" fill="#111" stroke="#111" stroke-width="0.12" textLength="6.13" lengthAdjust="spacingAndGlyphs">-4</text>
<text x="318.0" y="429.20" font-size="7.5" text-anchor="end" fill="#111" stroke="#111" stroke-width="0.12" textLength="6.13" lengthAdjust="spacingAndGlyphs">-6</text>
<text x="319.50" y="434.50" font-size="7.5" text-anchor="middle" fill="#111" stroke="#111" stroke-width="0.12" textLength="17.26" lengthAdjust="spacingAndGlyphs">1.968</text>
<text x="348.93" y="434.50" font-size="7.5" text-anchor="middle" fill="#111" stroke="#111" stroke-width="0.12" textLength="21.10" lengthAdjust="spacingAndGlyphs">1.9681</text>
<text x="378.35" y="434.50" font-size="7.5" text-anchor="middle" fill="#111" stroke="#111" stroke-width="0.12" textLength="21.10" lengthAdjust="spacingAndGlyphs">1.9682</text>
<text x="407.77" y="434.50" font-size="7.5" text-anchor="middle" fill="#111" stroke="#111" stroke-width="0.12" textLength="21.10" lengthAdjust="spacingAndGlyphs">1.9683</text>
<text x="437.20" y="434.50" font-size="7.5" text-anchor="middle" fill="#111" stroke="#111" stroke-width="0.12" textLength="21.10" lengthAdjust="spacingAndGlyphs">1.9684</text>
<text x="466.62" y="434.50" font-size="7.5" text-anchor="middle" fill="#111" stroke="#111" stroke-width="0.12" textLength="21.10" lengthAdjust="spacingAndGlyphs">1.9685</text>
<text x="496.05" y="434.50" font-size="7.5" text-anchor="middle" fill="#111" stroke="#111" stroke-width="0.12" textLength="21.10" lengthAdjust="spacingAndGlyphs">1.9686</text>
<text x="525.47" y="434.50" font-size="7.5" text-anchor="middle" fill="#111" stroke="#111" stroke-width="0.12" textLength="21.10" lengthAdjust="spacingAndGlyphs">1.9687</text>
<text x="554.90" y="434.50" font-size="7.5" text-anchor="middle" fill="#111" stroke="#111" stroke-width="0.12" textLength="21.10" lengthAdjust="spacingAndGlyphs">1.9688</text>
<text transform="translate(396.55,241.50) scale(1.1351,1)" font-size="8.9" fill="#1a1a1a" stroke="#1a1a1a" stroke-width="0.3">blue</text>
<text transform="translate(417.08,241.50) scale(1.1622,1)" font-size="8.9" fill="#1a1a1a" stroke="#1a1a1a" stroke-width="0.3">x;</text>
<text transform="translate(425.60,241.50) scale(1.0820,1)" font-size="8.9" fill="#1a1a1a" stroke="#1a1a1a" stroke-width="0.3">green</text>
<text transform="translate(451.37,241.50) scale(1.1801,1)" font-size="8.9" fill="#1a1a1a" stroke="#1a1a1a" stroke-width="0.3">y;</text>
<text transform="translate(460.61,241.50) scale(1.1625,1)" font-size="8.9" fill="#1a1a1a" stroke="#1a1a1a" stroke-width="0.3">red</text>
<text transform="translate(476.60,241.50) scale(1.1106,1)" font-size="8.9" fill="#1a1a1a" stroke="#1a1a1a" stroke-width="0.3">z;</text>
<text transform="translate(394.68,448.80) scale(1.0159,1)" font-size="9.5" fill="#222" stroke="#222" stroke-width="0.26">Time</text>
<text transform="translate(418.32,448.80) scale(1.2212,1)" font-size="9.5" fill="#222" stroke="#222" stroke-width="0.26">in</text>
<text transform="translate(430.12,448.80) scale(1.0750,1)" font-size="9.5" fill="#222" stroke="#222" stroke-width="0.26">1/80</text>
<text transform="translate(450.68,445.80) scale(1.2822,1)" font-size="6.0" fill="#222" stroke="#222" stroke-width="0.1">th</text>
<text transform="translate(458.63,448.80) scale(1.0350,1)" font-size="9.5" fill="#222" stroke="#222" stroke-width="0.26">second</text>
<g transform="translate(301.9,379.2) rotate(-90)">
<text transform="translate(-0.02,0.00) scale(0.9931,1)" font-size="11.8" fill="#111" stroke="#111" stroke-width="0.26">Acceleration</text>
<text transform="translate(65.81,0.00) scale(1.1273,1)" font-size="11.8" fill="#111" stroke="#111" stroke-width="0.26">in</text>
<text transform="translate(78.68,0.00) scale(1.0566,1)" font-size="11.8" fill="#111" stroke="#111" stroke-width="0.26" font-style="italic">g</text>
</g>
<text transform="translate(411.26,412.60) scale(1.0838,1)" font-size="14.0" fill="#111" stroke="#111" stroke-width="0.22">Running</text>
<line x1="553.9" y1="203.6" x2="553.9" y2="205.8" stroke="#999" stroke-width="0.9"/>
</svg></body></html>
